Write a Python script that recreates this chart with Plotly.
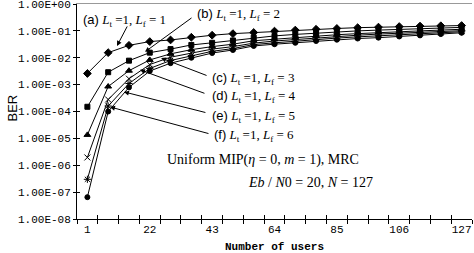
import plotly.graph_objects as go

users = [1, 8, 15, 22, 29, 36, 43, 50, 57, 64, 71, 78, 85, 92, 99, 106, 113, 120, 127]
tick_users = [1, 22, 43, 64, 85, 106, 127]
tick_labels = ["1", "22", "43", "64", "85", "106", "127"]
y_ticks = [1, 1e-1, 1e-2, 1e-3, 1e-4, 1e-5, 1e-6, 1e-7, 1e-8]
y_labels = ["1.00E+00", "1.00E-01", "1.00E-02", "1.00E-03", "1.00E-04",
            "1.00E-05", "1.00E-06", "1.00E-07", "1.00E-08"]

ber_a = [2.6e-3, 1.55e-2, 2.9e-2, 4.0e-2, 4.6e-2, 5.8e-2, 6.9e-2, 7.9e-2, 8.7e-2, 9.8e-2,
         0.107, 0.115, 0.123, 0.132, 0.138, 0.145, 0.151, 0.155, 0.158]
ber_b = [1.5e-4, 2.9e-3, 7.8e-3, 1.55e-2, 2.1e-2, 3.0e-2, 3.6e-2, 4.4e-2, 5.6e-2, 6.5e-2,
         7.4e-2, 8.3e-2, 9.1e-2, 0.100, 0.107, 0.115, 0.123, 0.129, 0.135]
ber_c = [1.35e-5, 8.5e-4, 3.3e-3, 8.3e-3, 1.4e-2, 2.0e-2, 2.6e-2, 3.2e-2, 4.3e-2, 4.9e-2,
         5.6e-2, 6.5e-2, 7.2e-2, 7.9e-2, 8.7e-2, 9.3e-2, 0.100, 0.107, 0.115]
ber_d = [1.95e-6, 2.8e-4, 1.66e-3, 5.6e-3, 1.05e-2, 1.5e-2, 2.1e-2, 2.6e-2, 3.5e-2, 4.2e-2,
         4.8e-2, 5.5e-2, 6.2e-2, 6.9e-2, 7.6e-2, 8.3e-2, 8.9e-2, 9.5e-2, 0.102]
ber_e = [3.0e-7, 1.6e-4, 1.1e-3, 4.0e-3, 7.9e-3, 1.2e-2, 1.74e-2, 2.2e-2, 3.1e-2, 3.6e-2,
         4.2e-2, 4.8e-2, 5.4e-2, 6.0e-2, 6.6e-2, 7.2e-2, 7.9e-2, 8.5e-2, 9.3e-2]
ber_f = [6.5e-8, 1.0e-4, 7.9e-4, 3.2e-3, 6.3e-3, 1.0e-2, 1.5e-2, 1.95e-2, 2.75e-2, 3.2e-2,
         3.6e-2, 4.2e-2, 4.7e-2, 5.2e-2, 5.6e-2, 6.2e-2, 6.8e-2, 7.6e-2, 8.5e-2]

series = [
    ("a", 1, ber_a, "diamond", 6),
    ("b", 2, ber_b, "square", 5),
    ("c", 3, ber_c, "triangle-up", 6),
    ("d", 4, ber_d, "x-thin-open", 6),
    ("e", 5, ber_e, "asterisk-open", 6),
    ("f", 6, ber_f, "circle", 5),
]

fig = go.Figure()
for tag, lf, vals, sym, sz in series:
    fig.add_trace(go.Scatter(
        x=users, y=vals, mode="lines+markers",
        line=dict(color="black", width=1),
        marker=dict(symbol=sym, size=sz, color="black",
                    line=dict(color="black", width=1)),
        showlegend=False, name=f"({tag})"))

boundaries = [u - 3.5 for u in users] + [users[-1] + 3.5]
xr = [users[0] - 3.5, users[-1] + 3.5]
yr = [-8, 0.0005]

mono = "Liberation Mono"
serif = "Liberation Serif"

fig.update_layout(
    width=474, height=253,
    margin=dict(l=77, r=2, t=4, b=34),
    plot_bgcolor="white", paper_bgcolor="white",
    xaxis=dict(range=xr, tickvals=tick_users, ticktext=tick_labels, ticks="",
               automargin=False,
               showgrid=False, zeroline=False, showline=True, linecolor="black",
               linewidth=1, tickfont=dict(family=mono, size=11, color="black"),
               minor=dict(tickvals=boundaries, ticks="outside", ticklen=4,
                          tickcolor="black", showgrid=False),
               title=dict(text="<b>Number of users</b>", standoff=13,
                          font=dict(family=mono, size=11, color="black"))),
    xaxis2=dict(range=xr, overlaying="x", anchor="y", side="bottom",
                tickvals=boundaries, ticks="inside", ticklen=4, tickcolor="black",
                showticklabels=False, showgrid=False, zeroline=False, showline=False),
    xaxis3=dict(range=xr, overlaying="x", anchor="y", side="top",
                showticklabels=False, ticks="", showgrid=False, zeroline=False,
                showline=True, linecolor="#999999", linewidth=1),
    yaxis=dict(type="log", range=yr, tickvals=y_ticks, ticktext=y_labels,
               ticks="outside", ticklen=3, tickcolor="black", automargin=False,
               ticklabeloverflow="allow",
               showgrid=False, zeroline=False, showline=True, linecolor="black",
               tickfont=dict(family=mono, size=11, color="black")),
    yaxis2=dict(type="log", range=yr, overlaying="y", anchor="x", side="left",
                tickvals=y_ticks, ticks="inside", ticklen=3, tickcolor="black",
                showticklabels=False, showgrid=False, zeroline=False, showline=False),
)
# dummy traces to activate overlay axes
fig.add_trace(go.Scatter(x=[None], y=[None], xaxis="x2", yaxis="y2", showlegend=False, hoverinfo="skip"))
fig.add_trace(go.Scatter(x=[None], y=[None], xaxis="x3", yaxis="y", showlegend=False, hoverinfo="skip"))


def lab(tag, lf, sp=" "):
    return (f"<span style='font-family:Liberation Sans'>({tag})</span>{sp}"
            f"<i>L</i><sub>t</sub> =1, <i>L</i><sub>f</sub> = {lf}")


def px2paper(px, py):
    return (px - 77) / 395.0, 1 - (py - 4) / 215.0


label_pos = {"a": (81, 20), "b": (195, 15), "c": (210, 79),
             "d": (210, 97), "e": (210, 116), "f": (212, 135)}
for tag, lf, vals, sym, sz in series:
    xp, yp = px2paper(*label_pos[tag])
    fig.add_annotation(x=xp, y=yp, xref="paper", yref="paper", xanchor="left",
                       yanchor="middle", showarrow=False, text=lab(tag, lf if tag != "a" else "1"),
                       font=dict(family=serif, size=13, color="black"))

# arrows: head (data x, log10 y), tail offset px
arrows = [(10.96, -1.56, 11, -21), (20.4, -1.78, 48, -35), (25.8, -2.01, 47, 18),
          (18.7, -2.45, 66, 24), (13.3, -3.27, 83, 21), (8.6, -3.83, 100, 27)]
for hx, hy, ax, ay in arrows:
    fig.add_annotation(x=hx, y=hy, xref="x", yref="y", ax=ax, ay=ay, text="",
                       showarrow=True, arrowhead=2, arrowsize=1, arrowwidth=1,
                       arrowcolor="black")

xp, yp = px2paper(361, 170)
fig.add_annotation(x=xp, y=yp, xref="paper", yref="paper", showarrow=False,
                   text="Uniform MIP(<i>η</i> = 0, <i>m</i> = 1), MRC",
                   font=dict(family=serif, size=14, color="black"))
xp, yp = px2paper(375, 192)
fig.add_annotation(x=xp, y=yp, xref="paper", yref="paper", showarrow=False,
                   text="<i>Eb</i> / <i>N</i>0 = 20, <i>N</i> = 127",
                   font=dict(family=serif, size=14, color="black"))
xp, yp = px2paper(2, 108)
fig.add_annotation(x=xp, y=yp, xref="paper", yref="paper", showarrow=False,
                   text="BER", textangle=-90, xanchor="left",
                   font=dict(family="Liberation Sans", size=13, color="black"))

fig.write_html("out.html")
